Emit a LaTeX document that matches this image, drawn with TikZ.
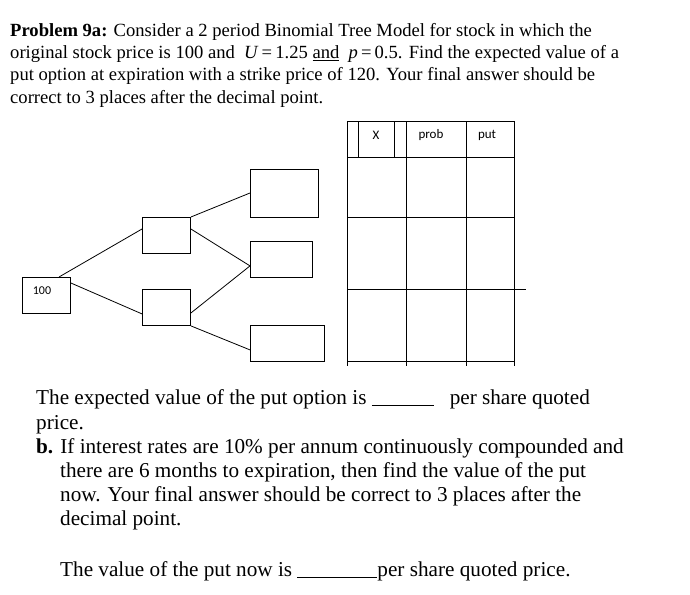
\documentclass[tikz,border=0pt]{standalone}
\usepackage{fontspec}
\setmainfont{Liberation Serif}
\newfontfamily\calfont{Carlito}
\begin{document}
\begin{tikzpicture}[x=1pt,y=-1pt,
  bx/.style={draw,line width=0.9pt,minimum width=#1,inner sep=0pt},
  ln/.style={line width=0.8pt},
  tl/.style={anchor=base west,inner sep=0pt,font=\fontsize{18.6}{20}\selectfont},
  bl/.style={anchor=base west,inner sep=0pt,font=\fontsize{21.2}{24}\selectfont},
  tb/.style={line width=0.9pt}]
\useasboundingbox (0,0) rectangle (690,594);
% header text
\node[tl] (t1) at (10,37) {\textbf{Problem 9a:} Consider a 2 period Binomial Tree Model for stock in which the};
\node[tl] (t2) at (10,59) {original stock price is 100 and \ \textit{U}\,=\,1.25 \underline{and} \ \textit{p}\,=\,0.5. Find the expected value of a};
\node[tl] (t3) at (10,81) {put option at expiration with a strike price of 120. Your final answer should be};
\node[tl] (t4) at (10,103) {correct to 3 places after the decimal point.};
% tree
\node[bx=48pt,minimum height=36pt,anchor=north west] (s0) at (22,277) {};
\node[font=\calfont\fontsize{12}{14}\selectfont] (s0t) at (42,291) {100};
\node[bx=48pt,minimum height=36pt,anchor=north west] (u) at (142,217) {};
\node[bx=48pt,minimum height=36pt,anchor=north west] (d) at (142,289) {};
\node[bx=68pt,minimum height=48pt,anchor=north west] (uu) at (250,169) {};
\node[bx=62pt,minimum height=36pt,anchor=north west] (ud) at (250,241) {};
\node[bx=74pt,minimum height=36pt,anchor=north west] (dd) at (250,325) {};
\draw[ln] ([xshift=37pt]s0.north west) -- ([yshift=-12pt]u.north west);
\draw[ln] ([yshift=-6pt]s0.north east) -- ([yshift=12pt]d.south west);
\draw[ln] (u.north east) -- ([yshift=-24pt]uu.north west);
\draw[ln] ([yshift=-12pt]u.north east) -- ([yshift=12pt]ud.south west);
\draw[ln] ([yshift=-24pt]d.north east) -- ([yshift=12pt]ud.south west);
\draw[ln] (d.south east) -- ([yshift=12pt]dd.south west);
% table
\draw[tb] (347,121) -- (514,121);
\draw[tb] (347,157) -- (514,157);
\draw[tb] (347,217) -- (514,217);
\draw[tb] (347,289) -- (526,289);
\draw[tb] (347,361) -- (514,361);
\foreach \xx in {347,406,466,514} \draw[tb] (\xx,121) -- (\xx,366);
\draw[tb] (358,121) -- (358,157);
\draw[tb] (394,121) -- (394,157);
\node[font=\calfont\fontsize{13}{14}\selectfont] (hx) at (376,135) {X};
\node[font=\calfont\fontsize{13}{14}\selectfont] (hp) at (431,135) {prob};
\node[font=\calfont\fontsize{13}{14}\selectfont] (hu) at (487,135) {put};
% lower text
\node[bl] (l1) at (36,404) {The expected value of the put option is \underline{\hspace{62pt}}\hspace{16pt}per share quoted};
\node[bl] (l2) at (36,429) {price.};
\node[bl] (l3) at (36,453) {\textbf{b.} If interest rates are 10\% per annum continuously compounded and};
\node[bl] (l4) at (60,477) {there are 6 months to expiration, then find the value of the put};
\node[bl] (l5) at (60,501) {now. Your final answer should be correct to 3 places after the};
\node[bl] (l6) at (60,525) {decimal point.};
\node[bl] (l7) at (60,576) {The value of the put now is \underline{\hspace{80pt}}per share quoted price.};
\end{tikzpicture}
\end{document}
